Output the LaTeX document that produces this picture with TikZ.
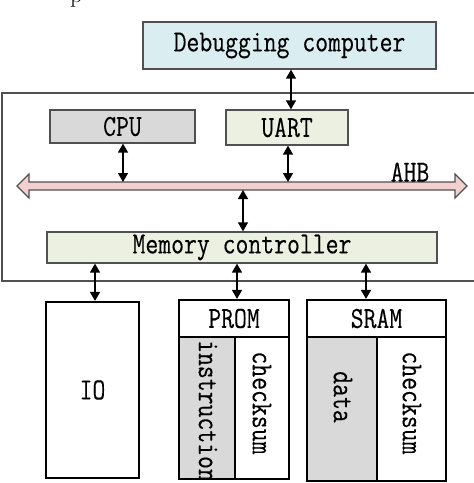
\documentclass[tikz,border=0pt]{standalone}
\usepackage{fontspec}
\usepackage{graphicx}
\usetikzlibrary{arrows.meta}
\newfontfamily\dgtt{Latin Modern Mono}[FakeBold=0.3]
\definecolor{dbgfill}{RGB}{218,238,242}
\definecolor{grayfill}{RGB}{217,217,217}
\definecolor{olivefill}{RGB}{236,240,224}
\definecolor{busfill}{RGB}{242,208,208}
\definecolor{edge}{RGB}{80,80,80}
\newcommand{\tallt}[1]{\scalebox{1}[1.22]{#1}}
\begin{document}
\begin{tikzpicture}[x=1pt,y=-1pt,
  txt/.style={font=\fontsize{25}{28}\selectfont\dgtt},
  box/.style={draw=edge,line width=1.3pt,inner sep=0pt,txt},
  membox/.style={draw=black,line width=2.2pt,inner sep=0pt,txt},
  dar/.style={{Triangle[width=10pt,length=9pt]}-{Triangle[width=10pt,length=9pt]},line width=1.4pt}]
\useasboundingbox (0,0) rectangle (474,483);
% fragment of text above
\node[font=\fontsize{24}{28}\selectfont\rmfamily,anchor=base west,inner sep=0pt] (frag) at (70,2) {p};
% outer system box
\draw[draw=edge,line width=1.3pt] (2,93) rectangle (480,281);
% top blocks
\node[box,fill=dbgfill,minimum width=293pt,minimum height=47pt] (debug) at (289.5,45.5) {\tallt{Debugging computer}};
\node[box,fill=grayfill,minimum width=145pt,minimum height=33pt] (cpu) at (122.5,126.5) {\tallt{CPU}};
\node[box,fill=olivefill,minimum width=122pt,minimum height=35pt] (uart) at (287,127.5) {\tallt{UART}};
% AHB bus
\draw[draw=edge,line width=1.2pt,fill=busfill] (17,186) -- (29,174) -- (29,182) -- (455,182) -- (455,174) -- (467,186) -- (455,198) -- (455,190) -- (29,190) -- (29,198) -- cycle;
\coordinate (busT) at (0,182);
\coordinate (busB) at (0,190);
\node[txt,inner sep=0pt] (ahb) at (410,172) {\tallt{AHB}};
\node[box,fill=olivefill,minimum width=390pt,minimum height=31pt] (mem) at (242,247.5) {\tallt{Memory controller}};
% memories
\node[membox,minimum width=93pt,minimum height=176pt] (io) at (92.5,390) {\tallt{IO}};
\node[membox,fill=grayfill,minimum width=56pt,minimum height=142pt] (promL) at (207,408) {};
\node[membox,minimum width=54pt,minimum height=142pt] (promR) at (262,408) {};
\node[membox,minimum width=110pt,minimum height=37pt] (prom) at (234,318.5) {\tallt{PROM}};
\node[membox,fill=grayfill,minimum width=70pt,minimum height=144pt] (sramL) at (342,409) {};
\node[membox,minimum width=69pt,minimum height=144pt] (sramR) at (411.5,409) {};
\node[membox,minimum width=139pt,minimum height=37pt] (sram) at (376.5,318.5) {\tallt{SRAM}};
\begin{scope}
\clip (180.2,338.2) rectangle (233.8,477.8);
\node[txt,rotate=-90,anchor=west,inner sep=0pt] (instr) at (208,340) {\tallt{instruction}};
\end{scope}
\node[txt,rotate=-90,inner sep=0pt] (ck1) at (262,403) {\tallt{checksum}};
\node[txt,rotate=-90,inner sep=0pt] (dat) at (343,397) {\tallt{data}};
\node[txt,rotate=-90,inner sep=0pt] (ck2) at (412,403) {\tallt{checksum}};
% connector x positions
\coordinate (xd) at (291,0);
\coordinate (xc) at (123,0);
\coordinate (xu) at (288,0);
\coordinate (xm) at (243,0);
\coordinate (xi) at (95,0);
\coordinate (xp) at (237,0);
\coordinate (xs) at (366,0);
% connectors
\draw[dar] (debug.south -| xd) -- (uart.north -| xd);
\draw[dar] (cpu.south -| xc) -- (busT -| xc);
\draw[dar] (uart.south -| xu) -- (busT -| xu);
\draw[dar] (busB -| xm) -- (mem.north -| xm);
\draw[dar] (mem.south -| xi) -- (io.north -| xi);
\draw[dar] (mem.south -| xp) -- (prom.north -| xp);
\draw[dar] (mem.south -| xs) -- (sram.north -| xs);
\end{tikzpicture}
\end{document}
